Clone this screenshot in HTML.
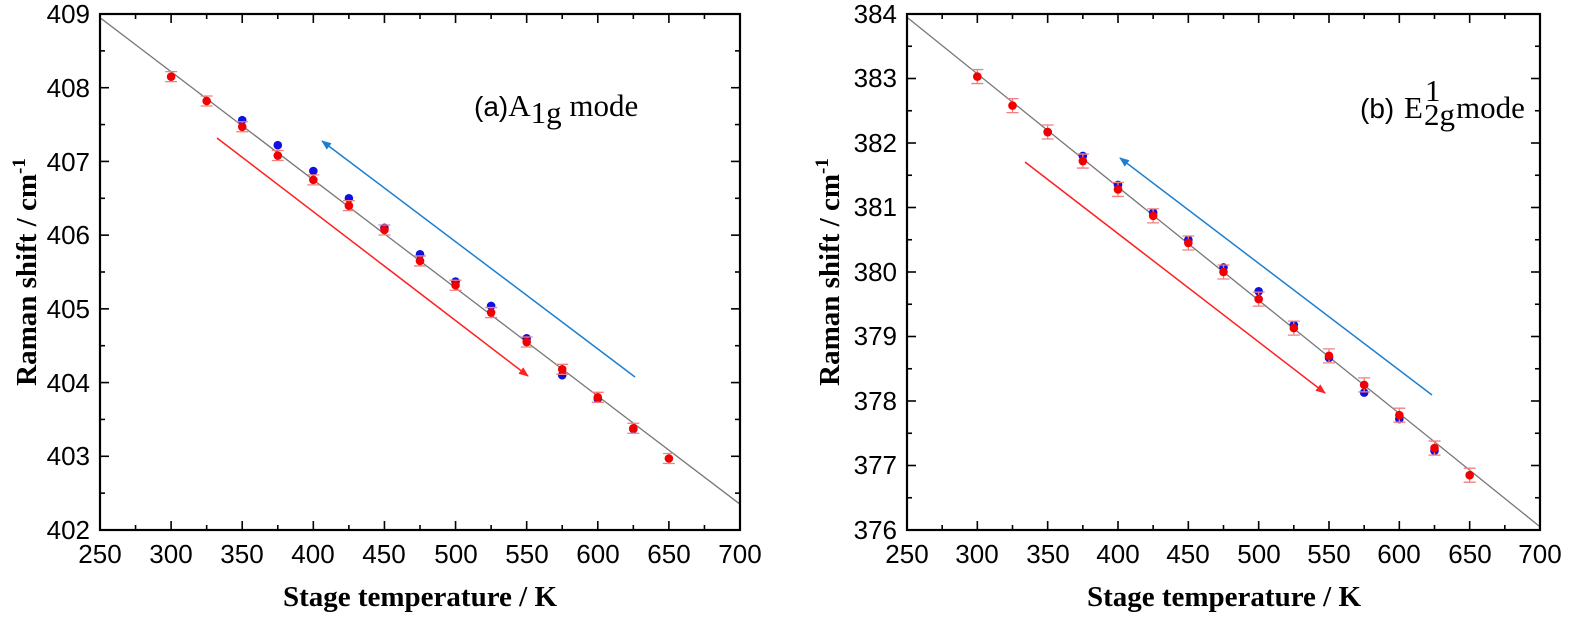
<!DOCTYPE html>
<html><head><meta charset="utf-8"><style>
html,body{margin:0;padding:0;background:#fff;width:1570px;height:624px;overflow:hidden}
svg text{font-family:"Liberation Sans",sans-serif}
.t{font-size:26px}
.lab{font-family:"Liberation Serif",serif !important;font-weight:bold;font-size:29px}
.m{font-family:"Liberation Serif",serif !important;font-size:31px}
</style></head><body>
<svg id="s" width="1570" height="624" xmlns="http://www.w3.org/2000/svg">
<defs>
<marker id="ar" markerWidth="10" markerHeight="8" refX="9" refY="4" orient="auto" markerUnits="userSpaceOnUse"><path d="M0,0L10,4L0,8z" fill="#ff2020"/></marker>
<marker id="ab" markerWidth="10" markerHeight="8" refX="9" refY="4" orient="auto" markerUnits="userSpaceOnUse"><path d="M0,0L10,4L0,8z" fill="#1a7fd0"/></marker>
</defs>
<g id="g"></g>
<g class="t" text-anchor="end">
<text x="90" y="23">409</text><text x="90" y="97">408</text><text x="90" y="171">407</text><text x="90" y="244">406</text><text x="90" y="318">405</text><text x="90" y="392">404</text><text x="90" y="465">403</text><text x="90" y="539">402</text>
<text x="897" y="23">384</text><text x="897" y="87">383</text><text x="897" y="152">382</text><text x="897" y="216">381</text><text x="897" y="281">380</text><text x="897" y="345">379</text><text x="897" y="410">378</text><text x="897" y="474">377</text><text x="897" y="539">376</text>
</g>
<g class="t" text-anchor="middle">
<text x="100" y="563">250</text><text x="171" y="563">300</text><text x="242" y="563">350</text><text x="313" y="563">400</text><text x="384" y="563">450</text><text x="456" y="563">500</text><text x="527" y="563">550</text><text x="598" y="563">600</text><text x="669" y="563">650</text><text x="740" y="563">700</text>
<text x="907" y="563">250</text><text x="977" y="563">300</text><text x="1048" y="563">350</text><text x="1118" y="563">400</text><text x="1188" y="563">450</text><text x="1259" y="563">500</text><text x="1329" y="563">550</text><text x="1399" y="563">600</text><text x="1470" y="563">650</text><text x="1540" y="563">700</text>
</g>
<text class="lab" x="420" y="606" text-anchor="middle">Stage temperature / K</text>
<text class="lab" x="1224" y="606" text-anchor="middle">Stage temperature / K</text>
<text class="lab" transform="translate(36,272) rotate(-90)" text-anchor="middle">Raman shift / cm<tspan dy="-11" font-size="19">-1</tspan></text>
<text class="lab" transform="translate(839,272) rotate(-90)" text-anchor="middle">Raman shift / cm<tspan dy="-11" font-size="19">-1</tspan></text>
<text x="474" y="116" font-size="28">(a)<tspan class="m">A</tspan><tspan class="m" font-size="22" dy="7">1g</tspan><tspan class="m" dy="-7"> mode</tspan></text>
<text x="1360" y="118" font-size="28">(b)</text>
<text class="m" x="1404" y="118">E</text>
<text class="m" x="1424" y="125" font-size="21">2g</text>
<text class="m" x="1425" y="101" font-size="21">1</text>
<text class="m" x="1456" y="118">mode</text>
</svg>
<script>
var g=document.getElementById('g'),NS='http://www.w3.org/2000/svg';
function el(t,a){var e=document.createElementNS(NS,t);for(var k in a)e.setAttribute(k,a[k]);g.appendChild(e);return e;}
function plot(P){
 var X=function(v){return P.x0+(v-250)/450*(P.x1-P.x0)};
 var Y=function(v){return P.y1+(v-P.ymin)/(P.ymax-P.ymin)*(P.y0-P.y1)};
 el('line',{x1:X(250),y1:Y(P.l0),x2:X(700),y2:Y(P.l1),stroke:'#777','stroke-width':1.3});
 el('line',{x1:P.ra[0],y1:P.ra[1],x2:P.ra[2],y2:P.ra[3],stroke:'#ff2020','stroke-width':1.5,'marker-end':'url(#ar)'});
 el('line',{x1:P.ba[0],y1:P.ba[1],x2:P.ba[2],y2:P.ba[3],stroke:'#1a7fd0','stroke-width':1.5,'marker-end':'url(#ab)'});
 P.b.forEach(function(v,i){el('circle',{cx:X(350+25*i),cy:Y(v),r:4.3,fill:'#1010e0'});});
 P.r.forEach(function(v,i){var x=X(300+25*i),y=Y(v),e=P.e;
  el('path',{d:'M'+(x-6)+','+(y-e)+'h12M'+(x-6)+','+(y+e)+'h12M'+x+','+(y-e)+'v'+2*e,stroke:'#f08080','stroke-width':1.3,fill:'none'});
  el('circle',{cx:x,cy:y,r:4.3,fill:'#f00000'});});
 el('rect',{x:P.x0,y:P.y0,width:P.x1-P.x0,height:P.y1-P.y0,fill:'none',stroke:'#000','stroke-width':2.2});
 for(var v=250;v<=700;v+=25){var x=X(v),L=(v%50==0)?9:5;
  el('line',{x1:x,y1:P.y1,x2:x,y2:P.y1-L,stroke:'#000','stroke-width':1.6});
  el('line',{x1:x,y1:P.y0,x2:x,y2:P.y0+L,stroke:'#000','stroke-width':1.6});}
 for(var v=P.ymin;v<=P.ymax+1e-6;v+=0.5){var y=Y(v),L=(Math.abs(v-Math.round(v))<1e-6)?9:5;
  el('line',{x1:P.x0,y1:y,x2:P.x0+L,y2:y,stroke:'#000','stroke-width':1.6});
  el('line',{x1:P.x1,y1:y,x2:P.x1-L,y2:y,stroke:'#000','stroke-width':1.6});}
}
plot({x0:100,x1:740,y0:14,y1:530,ymin:402,ymax:409,l0:408.95,l1:402.35,e:5,
 r:[408.15,407.82,407.47,407.08,406.75,406.4,406.07,405.65,405.32,404.95,404.55,404.18,403.8,403.38,402.97],
 b:[407.56,407.22,406.87,406.5,406.1,405.74,405.37,405.04,404.6,404.1,403.78,403.37],
 ra:[217,138,528,376],ba:[635,377,322,141]});
plot({x0:907,x1:1540,y0:14,y1:530,ymin:376,ymax:384,l0:383.95,l1:376.05,e:7,
 r:[383.03,382.58,382.17,381.72,381.28,380.87,380.45,380.0,379.58,379.13,378.7,378.25,377.78,377.27,376.85],
 b:[382.17,381.8,381.35,380.92,380.5,380.07,379.7,379.18,378.67,378.13,377.72,377.23],
 ra:[1025,162,1325,393],ba:[1432,395,1120,158]});
</script>
</body></html>
